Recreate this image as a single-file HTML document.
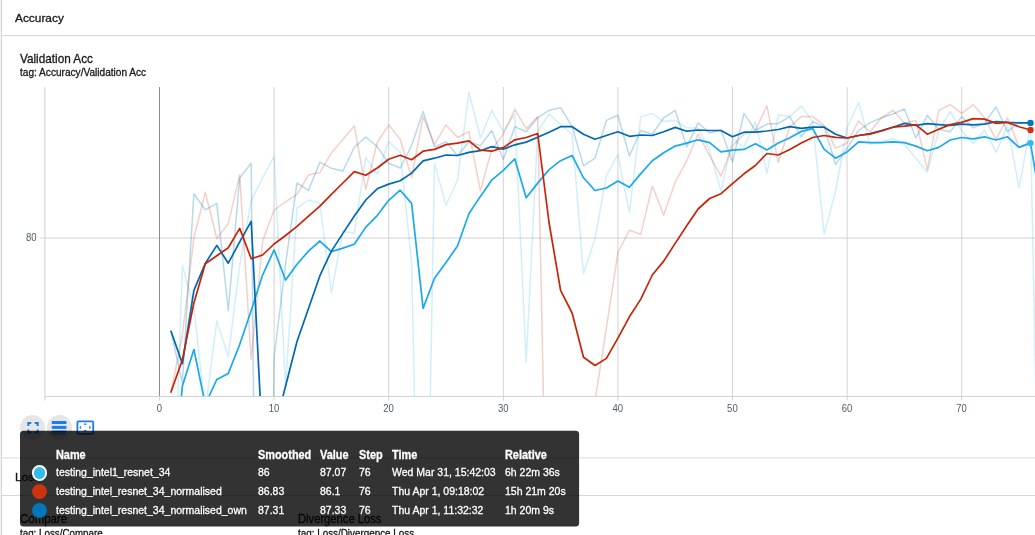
<!DOCTYPE html>
<html><head><meta charset="utf-8"><title>TensorBoard</title>
<style>
html,body{margin:0;padding:0;}
body{width:1035px;height:535px;overflow:hidden;background:#fff;position:relative;font-family:"Liberation Sans",sans-serif;color:#161616;}
.abs{position:absolute;white-space:nowrap;}
.t{position:absolute;white-space:nowrap;-webkit-text-stroke:0.3px currentColor;transform:scaleX(0.9091);transform-origin:0 0;}
.lstrip{left:0;top:0;width:2px;height:535px;background:#f3f3f3;border-right:1px solid #d6d6d6;box-sizing:border-box;}
.hline{left:2px;width:1033px;height:1px;background:#dadada;}
.chart{position:absolute;left:0;top:0;}
.tip{left:20px;top:431px;width:559px;height:95px;}
.tip .t{color:#fff;}
.dot{position:absolute;border-radius:50%;box-sizing:content-box;}
.ib{width:25px;height:25px;border-radius:50%;background:#e6e6e6;}
</style></head><body>
<div class="abs lstrip"></div>

<div class="t" style="left:15px;top:10.64px;font-size:11.42px;line-height:15px;transform:scaleX(1.0417);">Accuracy</div>
<div class="t" style="left:20px;top:49.92px;font-size:12.93px;line-height:17px;">Validation Acc</div>
<div class="t" style="left:20px;top:64.95px;font-size:11.11px;line-height:14px;">tag: Accuracy/Validation Acc</div>
<svg class="chart" width="1035" height="535" viewBox="0 0 1035 535">
<line x1="2" y1="35.5" x2="1035" y2="35.5" stroke="#d8d8d8" stroke-width="1"/>
<line x1="2" y1="457.9" x2="1035" y2="457.9" stroke="#d8d8d8" stroke-width="1"/>
<line x1="2" y1="495.5" x2="1035" y2="495.5" stroke="#d8d8d8" stroke-width="1"/>
<defs><clipPath id="cp"><rect x="45" y="87" width="990" height="309"/></clipPath></defs>
<line x1="44.9" y1="87" x2="44.9" y2="396" stroke="#d2d2d2" stroke-width="1"/>
<line x1="274.1" y1="87" x2="274.1" y2="396" stroke="#d2d2d2" stroke-width="1"/>
<line x1="388.7" y1="87" x2="388.7" y2="396" stroke="#d2d2d2" stroke-width="1"/>
<line x1="503.29999999999995" y1="87" x2="503.29999999999995" y2="396" stroke="#d2d2d2" stroke-width="1"/>
<line x1="617.9" y1="87" x2="617.9" y2="396" stroke="#d2d2d2" stroke-width="1"/>
<line x1="732.5" y1="87" x2="732.5" y2="396" stroke="#d2d2d2" stroke-width="1"/>
<line x1="847.0999999999999" y1="87" x2="847.0999999999999" y2="396" stroke="#d2d2d2" stroke-width="1"/>
<line x1="961.6999999999999" y1="87" x2="961.6999999999999" y2="396" stroke="#d2d2d2" stroke-width="1"/>
<line x1="45" y1="238" x2="1035" y2="238" stroke="#d2d2d2" stroke-width="1"/>
<line x1="159.5" y1="87" x2="159.5" y2="396" stroke="#8c8c8c" stroke-width="1"/>
<line x1="45" y1="396.5" x2="1035" y2="396.5" stroke="#d2d2d2" stroke-width="1"/>
<line x1="44.9" y1="396" x2="44.9" y2="400.5" stroke="#d2d2d2" stroke-width="1"/>
<line x1="159.5" y1="396" x2="159.5" y2="400.5" stroke="#d2d2d2" stroke-width="1"/>
<line x1="274.1" y1="396" x2="274.1" y2="400.5" stroke="#d2d2d2" stroke-width="1"/>
<line x1="388.7" y1="396" x2="388.7" y2="400.5" stroke="#d2d2d2" stroke-width="1"/>
<line x1="503.29999999999995" y1="396" x2="503.29999999999995" y2="400.5" stroke="#d2d2d2" stroke-width="1"/>
<line x1="617.9" y1="396" x2="617.9" y2="400.5" stroke="#d2d2d2" stroke-width="1"/>
<line x1="732.5" y1="396" x2="732.5" y2="400.5" stroke="#d2d2d2" stroke-width="1"/>
<line x1="847.0999999999999" y1="396" x2="847.0999999999999" y2="400.5" stroke="#d2d2d2" stroke-width="1"/>
<line x1="961.6999999999999" y1="396" x2="961.6999999999999" y2="400.5" stroke="#d2d2d2" stroke-width="1"/>
<line x1="40" y1="238" x2="45" y2="238" stroke="#d2d2d2" stroke-width="1"/>
<g font-family="Liberation Sans, sans-serif" font-size="10.8" fill="#505c68">
<text transform="translate(25.9,241.2) scale(0.883,1)">80</text>
<text transform="translate(156.8,412.4) scale(0.883,1)">0</text>
<text transform="translate(268.7,412.4) scale(0.883,1)">10</text>
<text transform="translate(383.3,412.4) scale(0.883,1)">20</text>
<text transform="translate(497.9,412.4) scale(0.883,1)">30</text>
<text transform="translate(612.5,412.4) scale(0.883,1)">40</text>
<text transform="translate(727.1,412.4) scale(0.883,1)">50</text>
<text transform="translate(841.7,412.4) scale(0.883,1)">60</text>
<text transform="translate(956.3,412.4) scale(0.883,1)">70</text>
</g>
<g clip-path="url(#cp)" fill="none" stroke-linejoin="round" stroke-linecap="round">
<polyline points="171.0,586.0 182.4,265.8 193.9,307.5 205.3,411.0 216.8,321.0 228.3,357.0 239.7,265.0 251.2,200.6 262.6,177.9 274.1,156.4 285.6,388.0 297.0,208.2 308.5,200.0 319.9,203.4 331.4,292.8 342.9,230.9 354.3,233.4 365.8,157.3 377.2,174.3 388.7,141.5 400.2,152.2 411.6,262.0 423.1,800.0 434.5,163.6 446.0,205.3 457.5,180.0 468.9,92.0 480.4,138.0 491.8,110.3 503.3,131.7 514.8,114.0 526.2,361.5 537.7,131.5 549.1,114.0 560.6,124.5 572.1,134.2 583.5,273.8 595.0,238.4 606.4,175.6 617.9,154.7 629.4,212.7 640.8,116.6 652.3,113.5 663.7,121.6 675.2,120.4 686.7,127.9 698.1,128.0 709.6,150.7 721.0,191.1 732.5,139.3 744.0,146.9 755.4,121.6 766.9,173.4 778.3,114.8 789.8,116.6 801.3,105.9 812.7,121.6 824.2,234.1 835.6,191.0 847.1,128.0 858.6,102.2 870.0,144.3 881.5,141.8 892.9,138.5 904.4,144.3 915.9,158.2 927.3,172.1 938.8,130.5 950.2,111.5 961.7,130.5 973.2,143.6 984.6,130.0 996.1,152.4 1007.5,125.4 1019.0,188.0 1030.5,125.4 1041.9,700.0" stroke="#33bbee" stroke-opacity="0.23" stroke-width="1.5"/>
<polyline points="171.0,331.3 182.4,382.8 193.9,193.8 205.3,209.8 216.8,203.4 228.3,310.5 239.7,177.9 251.2,163.2 262.6,1300.0 274.1,357.0 285.6,264.0 297.0,182.9 308.5,190.3 319.9,162.1 331.4,168.3 342.9,171.1 354.3,147.2 365.8,137.0 377.2,146.6 388.7,163.2 400.2,168.0 411.6,145.6 423.1,111.5 434.5,146.9 446.0,141.8 457.5,155.7 468.9,141.8 480.4,145.6 491.8,130.5 503.3,159.5 514.8,126.7 526.2,131.7 537.7,117.8 549.1,110.3 560.6,107.7 572.1,126.7 583.5,165.8 595.0,158.2 606.4,120.4 617.9,115.3 629.4,155.7 640.8,130.5 652.3,134.2 663.7,117.8 675.2,110.3 686.7,146.9 698.1,122.9 709.6,133.0 721.0,130.0 732.5,162.0 744.0,113.3 755.4,130.5 766.9,124.1 778.3,123.5 789.8,116.6 801.3,136.8 812.7,121.6 824.2,126.7 835.6,164.5 847.1,148.1 858.6,130.5 870.0,122.9 881.5,117.8 892.9,114.0 904.4,109.0 915.9,138.0 927.3,115.3 938.8,129.2 950.2,131.7 961.7,116.6 973.2,127.9 984.6,122.9 996.1,107.0 1007.5,131.7 1019.0,122.4 1030.5,122.9" stroke="#0077bb" stroke-opacity="0.28" stroke-width="1.5"/>
<polyline points="171.0,392.0 182.4,335.0 193.9,237.5 205.3,192.3 216.8,238.5 228.3,223.6 239.7,174.8 251.2,359.6 262.6,241.0 274.1,210.0 285.6,201.9 297.0,194.3 308.5,175.0 319.9,172.6 331.4,152.9 342.9,139.5 354.3,125.9 365.8,189.3 377.2,142.5 388.7,124.9 400.2,139.3 411.6,177.5 423.1,116.6 434.5,144.3 446.0,124.9 457.5,137.5 468.9,131.7 480.4,190.8 491.8,149.4 503.3,134.2 514.8,109.5 526.2,128.7 537.7,116.6 549.1,673.0 560.6,700.0 572.1,650.0 583.5,520.0 595.0,401.0 606.4,328.0 617.9,252.5 629.4,230.3 640.8,234.2 652.3,186.0 663.7,215.1 675.2,182.0 686.7,160.7 698.1,134.2 709.6,155.7 721.0,176.2 732.5,145.6 744.0,134.2 755.4,130.5 766.9,105.7 778.3,162.6 789.8,126.7 801.3,116.6 812.7,116.6 824.2,125.4 835.6,148.1 847.1,143.1 858.6,121.1 870.0,131.7 881.5,117.8 892.9,110.3 904.4,122.9 915.9,120.4 927.3,169.6 938.8,110.3 950.2,104.7 961.7,113.3 973.2,104.7 984.6,117.8 996.1,139.3 1007.5,117.8 1019.0,146.9 1030.5,141.8" stroke="#cc3311" stroke-opacity="0.23" stroke-width="1.5"/>
<polyline points="171.0,500.0 182.4,386.0 193.9,349.5 205.3,404.4 216.8,379.5 228.3,373.4 239.7,344.5 251.2,310.5 262.6,275.1 274.1,249.9 285.6,280.0 297.0,264.3 308.5,251.1 319.9,241.0 331.4,251.6 342.9,248.1 354.3,244.3 365.8,227.1 377.2,215.6 388.7,200.3 400.2,190.2 411.6,203.4 423.1,308.4 434.5,278.2 446.0,262.4 457.5,246.0 468.9,213.8 480.4,196.4 491.8,180.1 503.3,170.3 514.8,158.9 526.2,197.7 537.7,183.1 549.1,169.6 560.6,160.7 572.1,155.4 583.5,177.8 595.0,190.5 606.4,188.0 617.9,181.0 629.4,187.3 640.8,173.6 652.3,160.8 663.7,152.7 675.2,146.1 686.7,143.1 698.1,139.8 709.6,142.6 721.0,151.9 732.5,150.2 744.0,149.4 755.4,143.8 766.9,149.9 778.3,143.1 789.8,137.7 801.3,131.4 812.7,128.7 824.2,149.4 835.6,158.2 847.1,151.9 858.6,141.8 870.0,142.6 881.5,142.6 892.9,141.8 904.4,142.6 915.9,146.1 927.3,150.7 938.8,147.4 950.2,140.0 961.7,137.5 973.2,138.8 984.6,136.8 996.1,140.0 1007.5,136.8 1019.0,147.4 1030.5,143.1 1041.9,211.0" stroke="#19a9ee" stroke-width="1.7"/>
<polyline points="171.0,331.3 182.4,363.6 193.9,290.3 205.3,263.4 216.8,245.4 228.3,263.2 239.7,241.8 251.2,221.3 262.6,445.0 274.1,431.0 285.6,386.0 297.0,341.5 308.5,308.5 319.9,275.7 331.4,251.1 342.9,233.4 354.3,216.0 365.8,200.0 377.2,188.8 388.7,184.1 400.2,180.7 411.6,173.1 423.1,160.8 434.5,158.2 446.0,155.0 457.5,155.5 468.9,152.4 480.4,150.7 491.8,146.6 503.3,149.1 514.8,144.8 526.2,142.1 537.7,137.3 549.1,132.2 560.6,126.7 572.1,126.7 583.5,134.2 595.0,139.3 606.4,135.5 617.9,131.7 629.4,136.3 640.8,135.0 652.3,135.5 663.7,131.7 675.2,127.4 686.7,131.2 698.1,130.0 709.6,130.5 721.0,130.5 732.5,136.8 744.0,132.2 755.4,132.2 766.9,131.0 778.3,129.5 789.8,126.7 801.3,128.4 812.7,127.2 824.2,127.2 835.6,134.2 847.1,138.0 858.6,135.5 870.0,133.5 881.5,130.5 892.9,127.2 904.4,123.4 915.9,125.4 927.3,123.6 938.8,124.6 950.2,125.4 961.7,124.1 973.2,124.9 984.6,124.1 996.1,121.6 1007.5,122.4 1019.0,122.9 1030.5,122.9" stroke="#0268b4" stroke-width="1.7"/>
<polyline points="171.0,392.0 182.4,359.7 193.9,302.9 205.3,263.8 216.8,255.7 228.3,247.8 239.7,228.4 251.2,258.7 262.6,255.0 274.1,244.0 285.6,235.5 297.0,226.4 308.5,216.2 319.9,206.2 331.4,194.3 342.9,183.0 354.3,171.6 365.8,175.3 377.2,168.0 388.7,159.2 400.2,155.2 411.6,159.7 423.1,151.2 434.5,149.4 446.0,144.6 457.5,143.1 468.9,140.8 480.4,150.2 491.8,151.2 503.3,147.6 514.8,139.8 526.2,137.5 537.7,133.5 549.1,223.0 560.6,290.3 572.1,313.0 583.5,357.2 595.0,365.5 606.4,358.4 617.9,338.2 629.4,316.8 640.8,299.1 652.3,275.0 663.7,261.1 675.2,243.4 686.7,225.8 698.1,209.0 709.6,198.5 721.0,193.7 732.5,183.6 744.0,173.8 755.4,165.5 766.9,153.5 778.3,155.0 789.8,149.4 801.3,143.1 812.7,137.5 824.2,135.5 835.6,137.3 847.1,138.0 858.6,135.5 870.0,134.2 881.5,131.0 892.9,127.2 904.4,126.2 915.9,124.9 927.3,134.2 938.8,129.2 950.2,124.6 961.7,122.4 973.2,118.6 984.6,119.1 996.1,123.4 1007.5,122.4 1019.0,126.7 1030.5,130.0" stroke="#c82408" stroke-width="1.7"/>
</g>
<circle cx="1030.5" cy="143.1" r="3.2" fill="#33bbee"/>
<circle cx="1030.5" cy="130" r="3.2" fill="#cc3311"/>
<circle cx="1030.5" cy="122.9" r="3.2" fill="#0077bb"/>
</svg>

<div class="t" style="left:15.3px;top:470.14px;font-size:11.42px;line-height:15px;transform:scaleX(1.0417);">Loss</div>
<div class="t" style="left:20px;top:510.64px;font-size:12.6px;line-height:16px;">Compare</div>
<div class="t" style="left:20px;top:525.86px;font-size:10.78px;line-height:14px;">tag: Loss/Compare</div>
<div class="t" style="left:298px;top:510.53px;font-size:12.32px;line-height:16px;">Divergence Loss</div>
<div class="t" style="left:298px;top:525.84px;font-size:10.85px;line-height:14px;">tag: Loss/Divergence Loss</div>
<!-- toolbar -->
<div class="abs ib" style="left:20px;top:415px"></div>
<div class="abs ib" style="left:46.5px;top:415px"></div>
<svg class="abs" style="left:0;top:0" width="120" height="445" viewBox="0 0 120 445">
<g fill="none" stroke="#1a7cf0" stroke-width="2">
<path d="M28.3 426v-3h3M34.7 423h3v3M37.7 429.5v3h-3M31.3 432.5h-3v-3"/>
</g>
<g fill="#1a7cf0">
<rect x="51.8" y="421" width="14.6" height="3"/><rect x="51.8" y="425.9" width="14.6" height="3"/><rect x="51.8" y="430.6" width="14.6" height="2"/><rect x="51.8" y="433.7" width="14.6" height="0.8"/>
</g>
<g fill="none" stroke="#1a7cf0" stroke-width="1.8">
<rect x="77.4" y="421.3" width="15.8" height="12.5" rx="1"/>
</g>
<g fill="#1a7cf0"><path d="M85.2 423l1.8 1.8h-3.6zM79.3 427.4l1.8-1.8v3.6zM91.1 427.4l-1.8-1.8v3.6zM85.2 431.8l1.8-1.8h-3.6z"/></g>
</svg>
<!-- tooltip -->
<svg class="abs" style="left:0;top:0" width="1035" height="535" viewBox="0 0 1035 535"><rect x="20" y="430.8" width="559.1" height="95.6" rx="3.5" fill="#000" fill-opacity="0.8"/></svg>
<div class="abs tip">
<div class="t" style="left:36.0px;top:15.75px;font-size:11.99px;line-height:16px;font-weight:bold;">Name</div>
<div class="t" style="left:237.60000000000002px;top:15.75px;font-size:11.99px;line-height:16px;font-weight:bold;">Smoothed</div>
<div class="t" style="left:300.1px;top:15.75px;font-size:11.99px;line-height:16px;font-weight:bold;">Value</div>
<div class="t" style="left:339.1px;top:15.75px;font-size:11.99px;line-height:16px;font-weight:bold;">Step</div>
<div class="t" style="left:372.2px;top:15.75px;font-size:11.99px;line-height:16px;font-weight:bold;">Time</div>
<div class="t" style="left:484.8px;top:15.75px;font-size:11.99px;line-height:16px;font-weight:bold;">Relative</div>
<div class="dot" style="left:11.5px;top:34.1px;width:15.6px;height:15.6px;background:#33bbee;border:2.2px solid #fff;box-sizing:border-box;"></div>
<div class="t" style="left:36.0px;top:34.4px;font-size:11.55px;line-height:15px;">testing_intel1_resnet_34</div>
<div class="t" style="left:237.60000000000002px;top:34.4px;font-size:11.55px;line-height:15px;">86</div>
<div class="t" style="left:300.1px;top:34.4px;font-size:11.55px;line-height:15px;">87.07</div>
<div class="t" style="left:339.1px;top:34.4px;font-size:11.55px;line-height:15px;">76</div>
<div class="t" style="left:372.2px;top:34.4px;font-size:11.55px;line-height:15px;">Wed Mar 31, 15:42:03</div>
<div class="t" style="left:484.8px;top:34.4px;font-size:11.55px;line-height:15px;">6h 22m 36s</div>
<div class="dot" style="left:11.7px;top:53.0px;width:15.2px;height:15.2px;background:#cc3311;"></div>
<div class="t" style="left:36.0px;top:53.2px;font-size:11.55px;line-height:15px;">testing_intel_resnet_34_normalised</div>
<div class="t" style="left:237.60000000000002px;top:53.2px;font-size:11.55px;line-height:15px;">86.83</div>
<div class="t" style="left:300.1px;top:53.2px;font-size:11.55px;line-height:15px;">86.1</div>
<div class="t" style="left:339.1px;top:53.2px;font-size:11.55px;line-height:15px;">76</div>
<div class="t" style="left:372.2px;top:53.2px;font-size:11.55px;line-height:15px;">Thu Apr 1, 09:18:02</div>
<div class="t" style="left:484.8px;top:53.2px;font-size:11.55px;line-height:15px;">15h 21m 20s</div>
<div class="dot" style="left:11.7px;top:71.8px;width:15.2px;height:15.2px;background:#0077bb;"></div>
<div class="t" style="left:36.0px;top:72.0px;font-size:11.55px;line-height:15px;">testing_intel_resnet_34_normalised_own</div>
<div class="t" style="left:237.60000000000002px;top:72.0px;font-size:11.55px;line-height:15px;">87.31</div>
<div class="t" style="left:300.1px;top:72.0px;font-size:11.55px;line-height:15px;">87.33</div>
<div class="t" style="left:339.1px;top:72.0px;font-size:11.55px;line-height:15px;">76</div>
<div class="t" style="left:372.2px;top:72.0px;font-size:11.55px;line-height:15px;">Thu Apr 1, 11:32:32</div>
<div class="t" style="left:484.8px;top:72.0px;font-size:11.55px;line-height:15px;">1h 20m 9s</div>
</div>
</body></html>
